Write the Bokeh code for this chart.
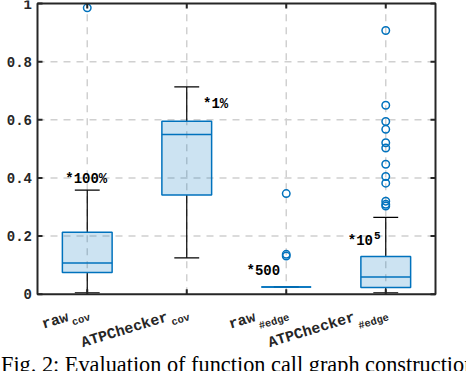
import numpy as np
from bokeh.plotting import figure
from bokeh.models import Range1d
from bokeh.core.properties import value
from bokeh.embed import file_html
from bokeh.resources import INLINE

# ---------------- data ----------------
categories = ["raw", "ATPChecker", "raw", "ATPChecker"]
subscripts = ["cov", "cov", "#edge", "#edge"]
positions = [1, 2, 3, 4]
lower_whisker = [0.005, 0.125, 0.025, 0.005]
q1 = [0.075, 0.341, 0.025, 0.023]
median = [0.107, 0.549, 0.025, 0.059]
q3 = [0.213, 0.595, 0.025, 0.130]
upper_whisker = [0.358, 0.713, 0.025, 0.264]
outliers_1 = [0.985]
outliers_2 = []
outliers_3 = [0.131, 0.137, 0.346]
outliers_4 = [0.907, 0.650, 0.594, 0.567, 0.521, 0.503, 0.447, 0.405, 0.382,
              0.320, 0.309, 0.303]
scale_notes = ["*100%", "*1%", "*500", "*10"]
scale_note_x = [0.99, 2.29, 2.77, 3.745]
scale_note_y = [0.397, 0.656, 0.081, 0.182]
y_ticks = [0, 0.2, 0.4, 0.6, 0.8, 1]
y_tick_labels = ["0", "0.2", "0.4", "0.6", "0.8", "1"]
grid_y = [0.2, 0.4, 0.6, 0.8]
caption = "Fig. 2: Evaluation of function call graph construction"

# ---------------- styling / geometry ----------------
BLUE = "#0072BD"
DARK = "#262626"
GRID = "#d0d0d0"
MONO = "Liberation Mono"

OFF = 8                          # page margin
W, H = 466, 371                  # canvas
# axes box in page pixels
AX_L, AX_R, AX_T, AX_B = 45, 443, 11, 301.7
X0, X1, Y0, Y1 = 0.5, 4.5, 0.0, 1.0
PX_X = (AX_R - AX_L) / (X1 - X0)
PX_Y = (AX_B - AX_T) / (Y1 - Y0)

x_range = Range1d(X0 - (AX_L - OFF) / PX_X, X1 + (W + OFF - AX_R) / PX_X)
y_range = Range1d(Y0 - (H + OFF - AX_B) / PX_Y, Y1 + (AX_T - OFF) / PX_Y)

def cx(px):   # page px -> data x
    return X0 + (px - AX_L) / PX_X
def cy(py):   # page px -> data y
    return Y0 + (AX_B - py) / PX_Y

p = figure(width=W, height=H, output_backend="svg", toolbar_location=None,
           x_range=x_range, y_range=y_range, min_border=0,
           x_axis_type=None, y_axis_type=None)
p.outline_line_color = None
p.xgrid.visible = False
p.ygrid.visible = False
p.background_fill_color = "white"
p.border_fill_color = "white"

n = len(positions)
# dashed grid
p.segment(x0=positions, y0=[Y0] * n, x1=positions, y1=[Y1] * n,
          line_color=GRID, line_width=1.5, line_dash="7 6")
p.segment(x0=[X0] * len(grid_y), y0=grid_y, x1=[X1] * len(grid_y), y1=grid_y,
          line_color=GRID, line_width=1.5, line_dash="7 6")

# whiskers
xs = np.array(positions, dtype=float)
p.segment(x0=xs, y0=q3, x1=xs, y1=upper_whisker, line_color="black", line_width=1.2)
p.segment(x0=xs, y0=lower_whisker, x1=xs, y1=q1, line_color="black", line_width=1.2)
p.segment(x0=xs - 0.125, y0=upper_whisker, x1=xs + 0.125, y1=upper_whisker,
          line_color="black", line_width=1.2)
p.segment(x0=xs - 0.125, y0=lower_whisker, x1=xs + 0.125, y1=lower_whisker,
          line_color="black", line_width=1.2)
# boxes
p.quad(left=xs - 0.25, right=xs + 0.25, bottom=q1, top=q3,
       fill_color=BLUE, fill_alpha=0.2, line_color=BLUE, line_width=1.5)
p.segment(x0=xs - 0.25, y0=median, x1=xs + 0.25, y1=median,
          line_color=BLUE, line_width=1.5)
# outliers
for pos, outs in zip(positions, [outliers_1, outliers_2, outliers_3, outliers_4]):
    if outs:
        p.scatter(x=[pos] * len(outs), y=outs, marker="circle", size=7.5,
                  fill_color=None, line_color=BLUE, line_width=1.5)

# axes box and inward ticks
p.quad(left=[X0], right=[X1], bottom=[Y0], top=[Y1], fill_color=None,
       line_color=DARK, line_width=2)
p.ray(x=positions, y=[Y0] * n, length=5, length_units="screen",
      angle=np.pi / 2, line_color=DARK, line_width=2)
p.ray(x=positions, y=[Y1] * n, length=5, length_units="screen",
      angle=-np.pi / 2, line_color=DARK, line_width=2)
p.ray(x=[X0] * len(y_ticks), y=y_ticks, length=5, length_units="screen",
      angle=0, line_color=DARK, line_width=2)
p.ray(x=[X1] * len(y_ticks), y=y_ticks, length=5, length_units="screen",
      angle=np.pi, line_color=DARK, line_width=2)

# y tick labels
p.text(x=[X0] * len(y_ticks), y=y_ticks, text=y_tick_labels, x_offset=-5.5,
       text_font=value(MONO), text_font_style="bold", text_font_size="14px",
       text_color=DARK, text_align="right", text_baseline="middle")

# scale notes
p.text(x=scale_note_x, y=scale_note_y, text=scale_notes,
       text_font=value(MONO), text_font_style="bold", text_font_size="14px",
       text_color="black", text_align="center", text_baseline="middle")
p.text(x=[scale_note_x[3]], y=[scale_note_y[3]], text=["5"], x_offset=13.5,
       y_offset=-6, text_font=value(MONO), text_font_style="bold",
       text_font_size="11px", text_color="black", text_align="left",
       text_baseline="middle")

# rotated category labels with subscripts
theta = np.deg2rad(17)
MAIN_FS, SUB_FS = 15, 10.5
main_x, main_y, sub_x, sub_y = [], [], [], []
for pos, sub in zip(positions, subscripts):
    tick_px = AX_L + (pos - X0) * PX_X
    sx = tick_px + 3
    w_sub = len(sub) * 0.6 * SUB_FS
    mx = sx - (w_sub + 4) * np.cos(theta)
    sub_x.append(cx(sx))
    sub_y.append(cy(324.5))
    main_x.append(cx(mx))
    main_y.append(cy(325))
p.text(x=sub_x, y=sub_y, text=subscripts, angle=theta,
       text_font=value(MONO), text_font_style="bold", text_font_size=f"{SUB_FS}px",
       text_color=DARK, text_align="right", text_baseline="middle")
p.text(x=main_x, y=main_y, text=categories, angle=theta,
       text_font=value(MONO), text_font_style="bold", text_font_size=f"{MAIN_FS}px",
       text_color=DARK, text_align="right", text_baseline="middle")

# caption
p.text(x=[cx(OFF + 0.5)], y=[cy(371.5)], text=[caption],
       text_font=value("Liberation Serif"), text_font_size="22.3px",
       text_color="black", text_align="left", text_baseline="alphabetic")

open("out.html", "w").write(file_html(p, INLINE))
